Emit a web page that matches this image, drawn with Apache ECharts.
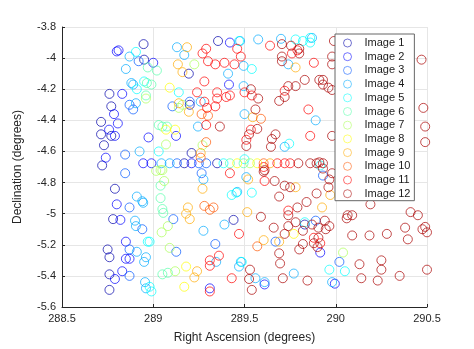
<!DOCTYPE html>
<html>
<head>
<meta charset="utf-8">
<script src="https://cdn.jsdelivr.net/npm/echarts@6/dist/echarts.min.js"></script>
<style>
  html, body { margin: 0; padding: 0; background: #fff; }
  #main { width: 474px; height: 349px; }
</style>
</head>
<body>
<div id="main"></div>
<script>
// series names and data: [right ascension, declination]
var seriesNames = ['Image 1', 'Image 2', 'Image 3', 'Image 4', 'Image 5', 'Image 6',
    'Image 7', 'Image 8', 'Image 9', 'Image 10', 'Image 11', 'Image 12'];

var img1 = [[288.947,-3.91],[288.95,-4.01],[288.76,-4.23],[288.77,-4.31],[288.714,-4.41],[288.714,-4.49],
    [288.77,-4.50],[288.73,-4.56],[288.72,-4.69],[288.79,-4.84],[288.78,-5.035],[288.75,-5.23],[288.76,-5.28],
    [288.76,-5.39],[288.76,-5.49],[289.355,-3.89],[289.20,-4.30],[289.21,-4.61],[289.44,-5.04],[289.83,-5.07],
    [289.17,-4.676],[289.35,-4.676],[289.195,-4.10]];
var img2 = [[288.80,-3.957],[288.81,-3.95],[288.83,-4.23],[288.785,-4.36],[288.806,-4.42],[288.758,-4.46],
    [288.79,-4.50],[288.974,-4.51],[289.125,-4.50],[288.74,-4.64],[288.80,-4.94],[288.82,-5.04],[288.85,-5.18],
    [288.85,-5.29],[288.87,-5.29],[288.79,-5.42],[288.83,-5.37],[289.42,-3.90],[289.415,-4.17],[288.945,-4.676],
    [288.99,-4.676],[289.21,-4.676],[289.915,-5.25],[289.61,-5.455],[289.995,-5.45],[289.31,-5.48],[289.0,-4.03]];
var img3 = [[288.87,-4.30],[288.89,-4.33],[288.846,-4.62],[288.846,-4.74],[288.87,-4.96],[288.87,-5.23],
    [288.87,-5.40],[288.94,-5.10],[289.11,-5.035],[289.126,-5.245],[288.92,-4.02],[289.105,-4.31],[289.13,-4.676],
    [289.25,-4.676],[289.29,-4.676],[289.34,-5.195],[290.02,-5.31],[289.89,-5.045],[289.67,-5.18],[289.265,-4.74],
    [289.93,-4.755],[289.20,-4.28]];
var img4 = [[288.87,-3.99],[288.85,-4.07],[288.88,-4.16],[288.89,-4.17],[288.905,-4.29],[288.925,-4.60],
    [288.91,-4.89],[288.94,-4.92],[288.945,-4.93],[288.90,-5.045],[288.905,-5.08],[288.91,-5.245],[288.95,-5.31],
    [288.96,-5.28],[288.955,-5.44],[288.96,-5.48],[289.13,-3.93],[289.17,-3.98],[289.41,-4.10],[289.26,-4.28],
    [289.245,-4.44],[289.476,-3.89],[289.575,-3.88],[289.495,-4.05],[289.74,-4.04],[289.495,-4.18],[289.50,-4.36],
    [289.72,-4.57],[289.89,-4.40],[289.275,-4.78],[289.39,-5.07],[289.275,-5.11],[289.345,-5.31],[289.48,-5.31],
    [289.47,-5.34],[289.56,-5.415],[289.61,-5.44],[289.77,-5.385],[289.98,-5.44],[289.46,-4.86],[289.09,-4.676],
    [289.045,-4.676],[289.87,-3.87],[289.51,-4.765],[289.70,-3.876]];
var img5 = [[288.905,-3.96],[288.91,-4.20],[288.95,-4.15],[289.14,-4.22],[289.47,-3.89],[289.78,-3.88],
    [289.86,-3.87],[289.86,-3.90],[289.54,-4.07],[289.745,-4.55],[288.97,-5.18],[288.98,-5.18],[288.98,-5.47],
    [288.99,-5.50],[289.03,-4.60],[289.43,-4.88],[289.54,-4.865],[289.385,-4.676],[289.83,-5.055],[289.965,-5.36],
    [290.05,-5.37],[289.50,-4.65],[289.915,-4.69],[289.485,-5.31],[289.455,-4.865],[289.82,-3.89]];
var img6 = [[288.97,-4.06],[289.02,-4.08],[288.965,-4.16],[288.99,-4.17],[289.03,-4.43],[289.05,-4.44],
    [289.075,-4.44],[289.04,-4.82],[289.04,-4.90],[289.05,-4.97],[289.055,-4.995],[289.05,-5.39],[289.08,-5.38],
    [289.495,-4.676],[289.42,-4.676],[288.96,-4.24]];
var img7 = [[288.96,-4.26],[289.07,-4.555],[289.27,-4.56],[289.016,-4.725],[289.05,-4.72],[289.06,-4.79],
    [289.046,-5.12],[289.08,-5.08],[289.09,-5.22],[289.12,-5.37],[289.16,-4.30],[289.225,-4.04],[290.04,-5.25],
    [289.53,-4.676],[289.04,-4.72],[289.14,-4.32]];
var img8 = [[289.09,-4.19],[289.07,-4.46],[289.18,-5.34],[289.17,-5.47],[289.77,-5.13],[289.46,-4.676],
    [289.57,-4.676],[289.12,-4.46]];
var img9 = [[289.185,-3.93],[289.135,-4.04],[289.16,-4.09],[289.14,-4.29],[289.195,-4.345],[289.26,-4.61],
    [289.19,-4.96],[289.18,-5.00],[289.20,-5.035],[289.24,-5.37],[289.225,-5.41],[289.78,-4.06],[289.545,-4.38],
    [289.52,-4.78],[289.78,-4.83],[289.97,-4.88],[289.925,-4.96],[289.515,-4.99],[289.69,-5.18],[289.27,-4.84],
    [289.64,-4.676],[289.605,-5.17]];
var img10 = [[289.28,-4.95],[289.31,-4.975],[289.33,-4.96],[289.29,-4.54],[289.265,-4.36],[289.57,-5.21],
    [289.605,-4.676],[289.26,-4.64],[289.59,-4.39],[289.30,-4.37]];
var img11 = [[289.27,-3.97],[289.29,-3.94],[289.30,-4.02],[289.34,-4.04],[289.39,-4.03],[289.445,-4.04],
    [289.46,-3.94],[289.28,-4.15],[289.24,-4.22],[289.35,-4.22],[289.35,-4.26],[289.40,-4.25],[289.42,-4.24],
    [289.28,-4.28],[289.295,-4.32],[289.34,-4.31],[289.29,-4.43],[289.64,-3.92],[289.76,-3.97],[289.79,-3.95],
    [289.48,-3.99],[289.88,-4.03],[289.50,-4.22],[289.54,-4.24],[289.72,-4.21],[289.85,-4.33],[289.535,-4.46],
    [289.51,-4.525],[289.86,-4.50],[289.42,-4.74],[289.605,-4.70],[289.61,-4.79],[289.36,-5.27],[289.31,-5.30],
    [289.31,-5.335],[289.43,-5.415],[289.31,-5.50],[289.47,-5.13],[289.68,-4.676],[289.72,-4.676],[289.75,-4.676],
    [289.88,-5.155],[289.915,-5.19],[289.74,-4.98]];
var img12 = [[289.365,-4.44],[289.705,-3.91],[289.755,-3.92],[289.80,-3.97],[289.80,-3.94],[289.99,-3.89],
    [289.705,-3.99],[289.705,-4.02],[289.98,-3.99],[289.98,-4.04],[290.47,-4.01],[289.535,-4.20],[289.575,-4.26],
    [289.69,-4.275],[289.72,-4.25],[289.74,-4.18],[289.78,-4.18],[289.83,-4.14],[289.91,-4.14],[289.93,-4.14],
    [289.93,-4.17],[289.96,-4.19],[289.98,-4.205],[289.56,-4.33],[290.48,-4.32],[289.525,-4.49],[289.57,-4.455],
    [289.51,-4.565],[289.67,-4.49],[289.65,-4.52],[289.645,-4.57],[289.98,-4.50],[290.49,-4.44],[290.49,-4.54],
    [289.605,-4.73],[289.665,-4.79],[289.72,-4.82],[289.75,-4.83],[289.965,-4.78],[289.96,-4.83],[289.895,-4.87],
    [289.69,-4.89],[289.84,-4.925],[289.79,-4.96],[290.19,-4.94],[289.74,-5.01],[289.59,-5.02],[290.065,-5.01],
    [290.09,-5.01],[290.06,-5.03],[290.41,-4.99],[290.45,-5.01],[289.78,-5.055],[289.94,-5.045],[289.965,-5.08],
    [289.945,-5.10],[289.905,-5.09],[289.66,-5.09],[289.74,-5.08],[289.72,-5.13],[289.82,-5.11],[289.87,-5.07],
    [289.905,-5.155],[289.88,-5.19],[289.90,-5.215],[289.82,-5.195],[289.80,-5.23],[289.69,-5.255],[289.695,-5.32],
    [290.09,-5.14],[290.185,-5.14],[290.28,-5.13],[290.38,-5.09],[290.395,-5.165],[290.475,-5.10],[290.49,-5.085],
    [290.50,-5.12],[290.13,-5.325],[290.25,-5.30],[290.25,-5.36],[290.35,-5.40],[290.50,-5.36],[290.14,-5.415],
    [290.23,-5.43],[289.845,-5.43],[289.71,-5.415],[289.53,-5.36],[289.525,-5.42],[289.54,-5.49],[289.98,-4.74],
    [289.795,-4.676],[289.86,-4.676],[289.895,-4.676],[289.93,-4.676],[289.61,-4.72],[289.91,-4.67],[289.93,-4.71]];

var allData = [img1, img2, img3, img4, img5, img6, img7, img8, img9, img10, img11, img12];

// jet(12)
var jetColors = ['#0000AA', '#0000FF', '#0055FF', '#00AAFF', '#00FFFF', '#55FFAA',
    '#AAFF55', '#FFFF00', '#FFAA00', '#FF5500', '#FF0000', '#AA0000'];

var myChart = echarts.init(document.getElementById('main'));

var font = 'Arial, "Liberation Sans", Helvetica, sans-serif';

var series = seriesNames.map(function (name, i) {
    return {
        name: name,
        type: 'scatter',
        data: allData[i],
        symbol: 'circle',
        symbolSize: 9,
        itemStyle: {
            color: 'rgba(255,255,255,0)',
            borderColor: jetColors[i],
            borderWidth: 1,
            opacity: 0.7
        },
        emphasis: { disabled: true }
    };
});

var option = {
    backgroundColor: '#fff',
    animation: false,
    textStyle: { fontFamily: font },
    grid: { left: 62, right: 47, top: 27, bottom: 39 },
    xAxis: {
        type: 'value',
        min: 288.5,
        max: 290.5,
        interval: 0.5,
        name: 'Right Ascension (degrees)',
        nameLocation: 'middle',
        nameGap: 25,
        nameTextStyle: { color: '#262626', fontSize: 12 },
        axisLine: { onZero: false, lineStyle: { color: '#262626', width: 1 } },
        axisTick: { inside: true, length: 3, lineStyle: { color: '#262626' } },
        axisLabel: { color: '#262626', fontSize: 11, margin: 6 },
        splitLine: { show: true, lineStyle: { color: '#e6e6e6', width: 1 } }
    },
    yAxis: {
        type: 'value',
        min: -5.6,
        max: -3.8,
        interval: 0.2,
        name: 'Declination (degrees)',
        nameLocation: 'middle',
        nameGap: 38,
        nameTextStyle: { color: '#262626', fontSize: 12 },
        axisLine: { show: true, onZero: false, lineStyle: { color: '#262626', width: 1 } },
        axisTick: { show: true, inside: true, length: 3, lineStyle: { color: '#262626' } },
        axisLabel: { color: '#262626', fontSize: 11, margin: 6 },
        splitLine: { show: true, lineStyle: { color: '#e6e6e6', width: 1 } }
    },
    legend: {
        data: seriesNames,
        orient: 'vertical',
        left: 335,
        top: 34,
        padding: [3, 4, 1, 8],
        itemGap: 1.7,
        itemWidth: 24,
        itemHeight: 8,
        backgroundColor: '#fff',
        borderColor: '#666',
        borderWidth: 1,
        borderRadius: 0,
        itemStyle: { opacity: 0.55, borderWidth: 1 },
        textStyle: { color: '#1a1a1a', fontSize: 11, lineHeight: 12, fontFamily: font },
        selectedMode: false
    },
    series: series
};

myChart.setOption(option);
</script>
</body>
</html>
